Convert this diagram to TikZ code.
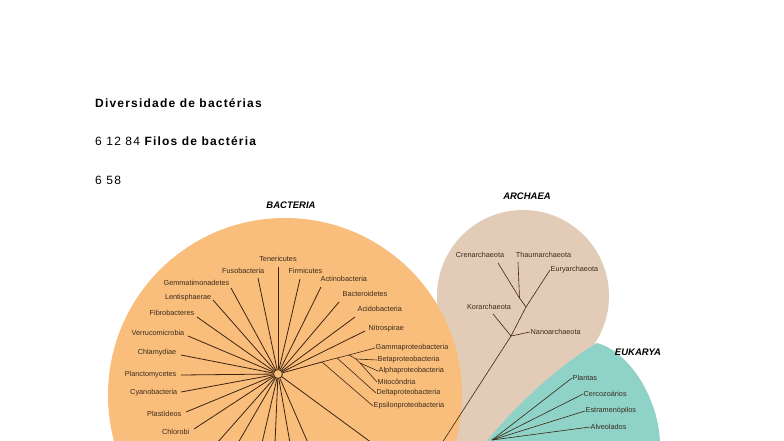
\documentclass[tikz,border=0pt]{standalone}
\usepackage{fontspec}
\setmainfont{Liberation Sans}
\newfontfamily\tracked[LetterSpace=10]{Liberation Sans}
\definecolor{bactc}{HTML}{F9BE7C}
\definecolor{archc}{HTML}{E2CCB8}
\definecolor{eukc}{HTML}{8ED2C8}
\definecolor{linec}{HTML}{3D2410}
\definecolor{labc}{HTML}{3A2A1A}
\begin{document}
\begin{tikzpicture}[x=1pt,y=-1pt,
  lab/.style={font=\fontsize{7.3}{8}\selectfont, text=labc, inner sep=0.5pt},
  dom/.style={font=\fontsize{9.5}{10}\selectfont\bfseries\itshape, text=black, inner sep=0pt},
  ttl/.style={font=\tracked\fontsize{12}{14}\selectfont, text=black, inner sep=0pt, anchor=west},
  ln/.style={draw=linec, line width=0.8pt},
  lnt/.style={draw=linec, line width=0.6pt}]
\useasboundingbox (0,0) rectangle (784,441);
\clip (0,0) rectangle (784,441);
\fill[white] (0,0) rectangle (784,441);

% --- regions ---
\fill[archc] (523,296) circle [radius=86pt];
\fill[archc] (440,300) -- (598,338) -- (560,400) -- (492,446) -- (430,446) -- cycle;
\fill[eukc] (483,446) .. controls (515,405) and (560,365) .. (597,343)
            .. controls (630,352) and (660,400) .. (660,446) -- cycle;
\fill[bactc] (285,395) circle [radius=177pt];

% --- titles ---
\node[ttl] (t1) at (95,103) {\bfseries Diversidade de bactérias};
\node[ttl] (t2) at (95,141) {6 12 84 \bfseries Filos de bactéria};
\node[ttl] (t3) at (95,180) {6 58};

\node[dom] (bac) at (291,205) {BACTERIA};
\node[dom] (arc) at (527,196) {ARCHAEA};
\node[dom] (euk) at (638,352) {EUKARYA};

% --- bacteria tree ---
\node[circle, draw=linec, line width=0.8pt, fill=bactc, minimum size=9pt, inner sep=0pt] (hub) at (278,374) {};

\node[lab] (ten) at (278,259) {Tenericutes};
\node[lab, anchor=east] (fus) at (265,271) {Fusobacteria};
\node[lab, anchor=west] (fir) at (288,271) {Firmicutes};
\node[lab, anchor=east] (gem) at (230,283) {Gemmatimonadetes};
\node[lab, anchor=west] (act) at (320,279) {Actinobacteria};
\node[lab, anchor=east] (len) at (212,298) {Lentisphaerae};
\node[lab, anchor=west] (bct) at (342,294) {Bacteroidetes};
\node[lab, anchor=east] (fib) at (195,313) {Fibrobacteres};
\node[lab, anchor=west] (aci) at (357,309) {Acidobacteria};
\node[lab, anchor=east] (ver) at (185,333) {Verrucomicrobia};
\node[lab, anchor=west] (nit) at (368,329) {Nitrospirae};
\node[lab, anchor=east] (chl) at (177,353) {Chlamydiae};
\node[lab, anchor=east] (pla) at (177,375) {Planctomycetes};
\node[lab, anchor=east] (cya) at (178,393) {Cyanobacteria};
\node[lab, anchor=east] (pls) at (182,414) {Plastídeos};
\node[lab, anchor=east] (chb) at (190,432) {Chlorobi};

\coordinate (ten-s) at (278,267);
\coordinate (fus-s) at (258,278);
\coordinate (fir-s) at (300,279);
\coordinate (gem-s) at (231,288);
\coordinate (act-s) at (321,287);
\coordinate (len-s) at (213,300);
\coordinate (bct-s) at (339,302);
\coordinate (fib-s) at (197,317);
\coordinate (aci-s) at (355,317);
\coordinate (ver-s) at (188,336);
\coordinate (nit-s) at (365,331);
\coordinate (chl-s) at (181,355);
\coordinate (pla-s) at (181,375);
\coordinate (cya-s) at (181,392);
\coordinate (pls-s) at (186,412);
\coordinate (chb-s) at (194,429);
\foreach \c in {ten,fus,fir,gem,act,len,bct,fib,aci,ver,nit,chl,pla,cya,pls,chb}
  \draw[ln] (\c-s) -- (hub);

% lines leaving the bottom edge
\foreach \x/\n in {217/1,238/2,262/3,275/4,290/5,308/6,372/7}
  \coordinate (bot\n) at (\x,443);
\foreach \n in {1,...,7}
  \draw[ln] (hub) -- (bot\n);

% proteobacteria
\node[lab, anchor=west] (gam) at (375,348) {Gammaproteobacteria};
\node[lab, anchor=west] (bet) at (377,360) {Betaproteobacteria};
\node[lab, anchor=west] (alp) at (378,371) {Alphaproteobacteria};
\node[lab, anchor=west] (mit) at (377,382) {Mitocôndria};
\node[lab, anchor=west] (del) at (376,393) {Deltaproteobacteria};
\node[lab, anchor=west] (eps) at (373,406) {Epsilonproteobacteria};
\coordinate (n1) at (322,362);
\coordinate (n2) at (337,358);
\coordinate (n3) at (349,355);
\coordinate (n4) at (356,359);
\coordinate (n5) at (360,363);
\draw[ln] (hub) -- (n1);
\draw[lnt] (n1) -- (eps.west);
\draw[lnt] (n1) -- (n2);
\draw[lnt] (n2) -- (del.west);
\draw[lnt] (n2) -- (n3);
\draw[lnt] (n3) -- (gam.west);
\draw[lnt] (n3) -- (n4);
\draw[lnt] (n4) -- (bet.west);
\draw[lnt] (n4) -- (n5);
\draw[lnt] (n5) -- (alp.west);
\draw[lnt] (n5) -- (mit.west);

% --- archaea tree ---
\node[lab] (cre) at (480,255) {Crenarchaeota};
\node[lab] (tha) at (543.5,255) {Thaumarchaeota};
\node[lab, anchor=west] (eur) at (550,270) {Euryarchaeota};
\node[lab] (kor) at (489,307) {Korarchaeota};
\node[lab, anchor=west] (nan) at (530,332) {Nanoarchaeota};
\coordinate (cre-s) at (498,263);
\coordinate (tha-s) at (518,262);
\coordinate (kor-s) at (493,314);
\coordinate (a1) at (526,307);
\coordinate (a2) at (519.5,298);
\coordinate (a3) at (511,336);
\coordinate (aroot) at (442,443);
\draw[lnt] (cre-s) -- (a2) -- (a1);
\draw[lnt] (tha-s) -- (a2);
\draw[lnt] (eur.west) -- (a1) -- (a3);
\draw[lnt] (kor-s) -- (a3);
\draw[lnt] (nan.west) -- (a3);
\draw[lnt] (a3) -- (aroot);

% --- eukarya tree ---
\node[lab, anchor=west] (pln) at (572,378) {Plantas};
\node[lab, anchor=west] (cer) at (583,394) {Cercozoários};
\node[lab, anchor=west] (est) at (585,411) {Estramenópilos};
\node[lab, anchor=west] (alv) at (590,427) {Alveolados};
\coordinate (e0) at (492,440);
\foreach \c in {pln,cer,est,alv}
  \draw[lnt] (\c.west) -- (e0);
\end{tikzpicture}
\end{document}
